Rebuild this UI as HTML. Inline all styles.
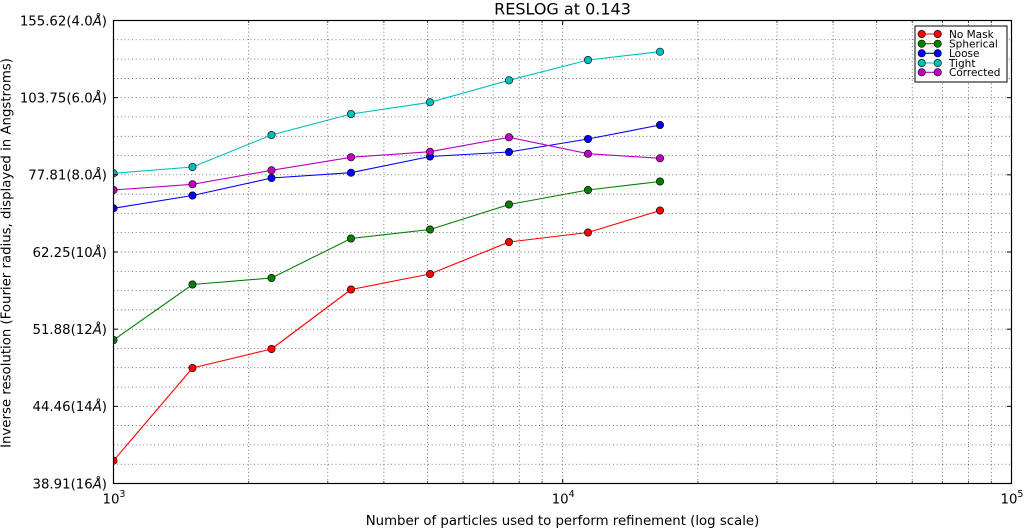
<!DOCTYPE html>
<html>
<head>
<meta charset="utf-8">
<style>
html,body{margin:0;padding:0;background:#fff;}
svg{display:block;}
text{font-family:"DejaVu Sans","Liberation Sans",sans-serif;fill:#000;}
</style>
</head>
<body>
<svg width="1024" height="528" viewBox="0 0 1024 528" xmlns="http://www.w3.org/2000/svg">
<defs>
<clipPath id="pc"><rect x="113.5" y="20.5" width="898" height="463"/></clipPath>
</defs>
<rect x="0" y="0" width="1024" height="528" fill="#fff"/>

<!-- grid -->
<g stroke="#333" stroke-width="0.7" stroke-dasharray="1 2.7" fill="none">
<!-- vertical -->
<line x1="248.7" y1="20.5" x2="248.7" y2="483.5"/>
<line x1="327.8" y1="20.5" x2="327.8" y2="483.5"/>
<line x1="383.9" y1="20.5" x2="383.9" y2="483.5"/>
<line x1="427.5" y1="20.5" x2="427.5" y2="483.5"/>
<line x1="463" y1="20.5" x2="463" y2="483.5"/>
<line x1="493.1" y1="20.5" x2="493.1" y2="483.5"/>
<line x1="519.2" y1="20.5" x2="519.2" y2="483.5"/>
<line x1="542.1" y1="20.5" x2="542.1" y2="483.5"/>
<line x1="562.7" y1="20.5" x2="562.7" y2="483.5"/>
<line x1="697.9" y1="20.5" x2="697.9" y2="483.5"/>
<line x1="777" y1="20.5" x2="777" y2="483.5"/>
<line x1="833.1" y1="20.5" x2="833.1" y2="483.5"/>
<line x1="876.7" y1="20.5" x2="876.7" y2="483.5"/>
<line x1="912.2" y1="20.5" x2="912.2" y2="483.5"/>
<line x1="942.3" y1="20.5" x2="942.3" y2="483.5"/>
<line x1="968.4" y1="20.5" x2="968.4" y2="483.5"/>
<line x1="991.3" y1="20.5" x2="991.3" y2="483.5"/>
<!-- horizontal -->
<line x1="113.5" y1="39.79" x2="1011.5" y2="39.79"/>
<line x1="113.5" y1="59.08" x2="1011.5" y2="59.08"/>
<line x1="113.5" y1="78.38" x2="1011.5" y2="78.38"/>
<line x1="113.5" y1="97.67" x2="1011.5" y2="97.67"/>
<line x1="113.5" y1="116.96" x2="1011.5" y2="116.96"/>
<line x1="113.5" y1="136.25" x2="1011.5" y2="136.25"/>
<line x1="113.5" y1="155.54" x2="1011.5" y2="155.54"/>
<line x1="113.5" y1="174.83" x2="1011.5" y2="174.83"/>
<line x1="113.5" y1="194.13" x2="1011.5" y2="194.13"/>
<line x1="113.5" y1="213.42" x2="1011.5" y2="213.42"/>
<line x1="113.5" y1="232.71" x2="1011.5" y2="232.71"/>
<line x1="113.5" y1="252" x2="1011.5" y2="252"/>
<line x1="113.5" y1="271.29" x2="1011.5" y2="271.29"/>
<line x1="113.5" y1="290.58" x2="1011.5" y2="290.58"/>
<line x1="113.5" y1="309.88" x2="1011.5" y2="309.88"/>
<line x1="113.5" y1="329.17" x2="1011.5" y2="329.17"/>
<line x1="113.5" y1="348.46" x2="1011.5" y2="348.46"/>
<line x1="113.5" y1="367.75" x2="1011.5" y2="367.75"/>
<line x1="113.5" y1="387.04" x2="1011.5" y2="387.04"/>
<line x1="113.5" y1="406.33" x2="1011.5" y2="406.33"/>
<line x1="113.5" y1="425.63" x2="1011.5" y2="425.63"/>
<line x1="113.5" y1="444.92" x2="1011.5" y2="444.92"/>
<line x1="113.5" y1="464.21" x2="1011.5" y2="464.21"/>
</g>

<!-- data -->
<g clip-path="url(#pc)">
<g fill="none" stroke-width="1.1" stroke-linejoin="round">
<polyline stroke="#ff0000" points="113.5,460.7 192.5,368 271.5,349 351,289.5 430,274 509,242 588,232.5 660,210.5"/>
</g>
<g fill="#ff0000" stroke="#000" stroke-width="0.6">
<circle cx="113.5" cy="460.7" r="3.7"/><circle cx="192.5" cy="368" r="3.7"/><circle cx="271.5" cy="349" r="3.7"/><circle cx="351" cy="289.5" r="3.7"/><circle cx="430" cy="274" r="3.7"/><circle cx="509" cy="242" r="3.7"/><circle cx="588" cy="232.5" r="3.7"/><circle cx="660" cy="210.5" r="3.7"/>
</g>
<polyline fill="none" stroke-width="1.1" stroke="#008000" points="113.5,340 192.5,284.5 271.5,278 351,238.5 430,229.5 509,204.5 588,190 660,181.5"/>
<g fill="#008000" stroke="#000" stroke-width="0.6">
<circle cx="113.5" cy="340" r="3.7"/><circle cx="192.5" cy="284.5" r="3.7"/><circle cx="271.5" cy="278" r="3.7"/><circle cx="351" cy="238.5" r="3.7"/><circle cx="430" cy="229.5" r="3.7"/><circle cx="509" cy="204.5" r="3.7"/><circle cx="588" cy="190" r="3.7"/><circle cx="660" cy="181.5" r="3.7"/>
</g>
<polyline fill="none" stroke-width="1.1" stroke="#0000ff" points="113.5,208.3 192.5,195.5 271.5,178 351,172.7 430,156.5 509,152 588,139 660,125"/>
<g fill="#0000ff" stroke="#000" stroke-width="0.6">
<circle cx="113.5" cy="208.3" r="3.7"/><circle cx="192.5" cy="195.5" r="3.7"/><circle cx="271.5" cy="178" r="3.7"/><circle cx="351" cy="172.7" r="3.7"/><circle cx="430" cy="156.5" r="3.7"/><circle cx="509" cy="152" r="3.7"/><circle cx="588" cy="139" r="3.7"/><circle cx="660" cy="125" r="3.7"/>
</g>
<polyline fill="none" stroke-width="1.1" stroke="#00bfbf" points="113.5,173.3 192.5,167 271.5,135 351,114 430,102.3 509,80.3 588,60 660,51.7"/>
<g fill="#00bfbf" stroke="#000" stroke-width="0.6">
<circle cx="113.5" cy="173.3" r="3.7"/><circle cx="192.5" cy="167" r="3.7"/><circle cx="271.5" cy="135" r="3.7"/><circle cx="351" cy="114" r="3.7"/><circle cx="430" cy="102.3" r="3.7"/><circle cx="509" cy="80.3" r="3.7"/><circle cx="588" cy="60" r="3.7"/><circle cx="660" cy="51.7" r="3.7"/>
</g>
<polyline fill="none" stroke-width="1.1" stroke="#bf00bf" points="113.5,190 192.5,184.3 271.5,170.3 351,157.3 430,151.7 509,137.3 588,153.7 660,158.3"/>
<g fill="#bf00bf" stroke="#000" stroke-width="0.6">
<circle cx="113.5" cy="190" r="3.7"/><circle cx="192.5" cy="184.3" r="3.7"/><circle cx="271.5" cy="170.3" r="3.7"/><circle cx="351" cy="157.3" r="3.7"/><circle cx="430" cy="151.7" r="3.7"/><circle cx="509" cy="137.3" r="3.7"/><circle cx="588" cy="153.7" r="3.7"/><circle cx="660" cy="158.3" r="3.7"/>
</g>
</g>

<!-- ticks -->
<g stroke="#000" stroke-width="1">
<!-- y major left/right -->
<line x1="113.5" y1="97.67" x2="118" y2="97.67"/><line x1="1011.5" y1="97.67" x2="1007" y2="97.67"/>
<line x1="113.5" y1="174.83" x2="118" y2="174.83"/><line x1="1011.5" y1="174.83" x2="1007" y2="174.83"/>
<line x1="113.5" y1="252" x2="118" y2="252"/><line x1="1011.5" y1="252" x2="1007" y2="252"/>
<line x1="113.5" y1="329.17" x2="118" y2="329.17"/><line x1="1011.5" y1="329.17" x2="1007" y2="329.17"/>
<line x1="113.5" y1="406.33" x2="118" y2="406.33"/><line x1="1011.5" y1="406.33" x2="1007" y2="406.33"/>
<!-- x major bottom/top -->
<line x1="562.7" y1="483.5" x2="562.7" y2="479"/><line x1="562.7" y1="20.5" x2="562.7" y2="25"/>
<!-- x minor -->
<g stroke-width="0.8">
<line x1="248.7" y1="483.5" x2="248.7" y2="481.2"/><line x1="248.7" y1="20.5" x2="248.7" y2="22.8"/>
<line x1="327.8" y1="483.5" x2="327.8" y2="481.2"/><line x1="327.8" y1="20.5" x2="327.8" y2="22.8"/>
<line x1="383.9" y1="483.5" x2="383.9" y2="481.2"/><line x1="383.9" y1="20.5" x2="383.9" y2="22.8"/>
<line x1="427.5" y1="483.5" x2="427.5" y2="481.2"/><line x1="427.5" y1="20.5" x2="427.5" y2="22.8"/>
<line x1="463" y1="483.5" x2="463" y2="481.2"/><line x1="463" y1="20.5" x2="463" y2="22.8"/>
<line x1="493.1" y1="483.5" x2="493.1" y2="481.2"/><line x1="493.1" y1="20.5" x2="493.1" y2="22.8"/>
<line x1="519.2" y1="483.5" x2="519.2" y2="481.2"/><line x1="519.2" y1="20.5" x2="519.2" y2="22.8"/>
<line x1="542.1" y1="483.5" x2="542.1" y2="481.2"/><line x1="542.1" y1="20.5" x2="542.1" y2="22.8"/>
<line x1="697.9" y1="483.5" x2="697.9" y2="481.2"/><line x1="697.9" y1="20.5" x2="697.9" y2="22.8"/>
<line x1="777" y1="483.5" x2="777" y2="481.2"/><line x1="777" y1="20.5" x2="777" y2="22.8"/>
<line x1="833.1" y1="483.5" x2="833.1" y2="481.2"/><line x1="833.1" y1="20.5" x2="833.1" y2="22.8"/>
<line x1="876.7" y1="483.5" x2="876.7" y2="481.2"/><line x1="876.7" y1="20.5" x2="876.7" y2="22.8"/>
<line x1="912.2" y1="483.5" x2="912.2" y2="481.2"/><line x1="912.2" y1="20.5" x2="912.2" y2="22.8"/>
<line x1="942.3" y1="483.5" x2="942.3" y2="481.2"/><line x1="942.3" y1="20.5" x2="942.3" y2="22.8"/>
<line x1="968.4" y1="483.5" x2="968.4" y2="481.2"/><line x1="968.4" y1="20.5" x2="968.4" y2="22.8"/>
<line x1="991.3" y1="483.5" x2="991.3" y2="481.2"/><line x1="991.3" y1="20.5" x2="991.3" y2="22.8"/>
</g>
</g>

<!-- frame -->
<rect x="113.5" y="20.5" width="898" height="463" fill="none" stroke="#000" stroke-width="1.2"/>

<!-- title -->
<text x="562.5" y="14.5" font-size="16" text-anchor="middle">RESLOG at 0.143</text>

<!-- y tick labels -->
<g font-size="13.3" text-anchor="end">
<text x="107" y="25.3">155.62(4.0<tspan font-style="italic">Å</tspan>)</text>
<text x="107" y="102.5">103.75(6.0<tspan font-style="italic">Å</tspan>)</text>
<text x="107" y="179.6">77.81(8.0<tspan font-style="italic">Å</tspan>)</text>
<text x="107" y="256.8">62.25(10<tspan font-style="italic">Å</tspan>)</text>
<text x="107" y="334">51.88(12<tspan font-style="italic">Å</tspan>)</text>
<text x="107" y="411.1">44.46(14<tspan font-style="italic">Å</tspan>)</text>
<text x="107" y="488.3">38.91(16<tspan font-style="italic">Å</tspan>)</text>
</g>

<!-- x tick labels -->
<g font-size="13.3">
<text x="102.5" y="503.5">10<tspan dy="-6.5" font-size="9.5">3</tspan></text>
<text x="551.7" y="503.5">10<tspan dy="-6.5" font-size="9.5">4</tspan></text>
<text x="1000.5" y="503.5">10<tspan dy="-6.5" font-size="9.5">5</tspan></text>
</g>

<!-- axis labels -->
<text x="562.5" y="525" font-size="13.3" text-anchor="middle">Number of particles used to perform refinement (log scale)</text>
<text transform="translate(10.5,253) rotate(-90)" font-size="13.3" text-anchor="middle">Inverse resolution (Fourier radius, displayed in Angstroms)</text>

<!-- legend -->
<rect x="915" y="26" width="92" height="56" fill="#fff" stroke="#000" stroke-width="1"/>
<g stroke-width="1.1">
<line x1="921.7" y1="34" x2="937.7" y2="34" stroke="#ff0000"/>
<line x1="921.7" y1="43.7" x2="937.7" y2="43.7" stroke="#008000"/>
<line x1="921.7" y1="53.3" x2="937.7" y2="53.3" stroke="#0000ff"/>
<line x1="921.7" y1="63" x2="937.7" y2="63" stroke="#00bfbf"/>
<line x1="921.7" y1="72.3" x2="937.7" y2="72.3" stroke="#bf00bf"/>
</g>
<g stroke="#000" stroke-width="0.6">
<circle cx="921.7" cy="34" r="3.7" fill="#ff0000"/><circle cx="937.7" cy="34" r="3.7" fill="#ff0000"/>
<circle cx="921.7" cy="43.7" r="3.7" fill="#008000"/><circle cx="937.7" cy="43.7" r="3.7" fill="#008000"/>
<circle cx="921.7" cy="53.3" r="3.7" fill="#0000ff"/><circle cx="937.7" cy="53.3" r="3.7" fill="#0000ff"/>
<circle cx="921.7" cy="63" r="3.7" fill="#00bfbf"/><circle cx="937.7" cy="63" r="3.7" fill="#00bfbf"/>
<circle cx="921.7" cy="72.3" r="3.7" fill="#bf00bf"/><circle cx="937.7" cy="72.3" r="3.7" fill="#bf00bf"/>
</g>
<g font-size="10.5">
<text x="949" y="37.8">No Mask</text>
<text x="949" y="47.5">Spherical</text>
<text x="949" y="57.1">Loose</text>
<text x="949" y="66.8">Tight</text>
<text x="949" y="76.1">Corrected</text>
</g>
</svg>
</body>
</html>
